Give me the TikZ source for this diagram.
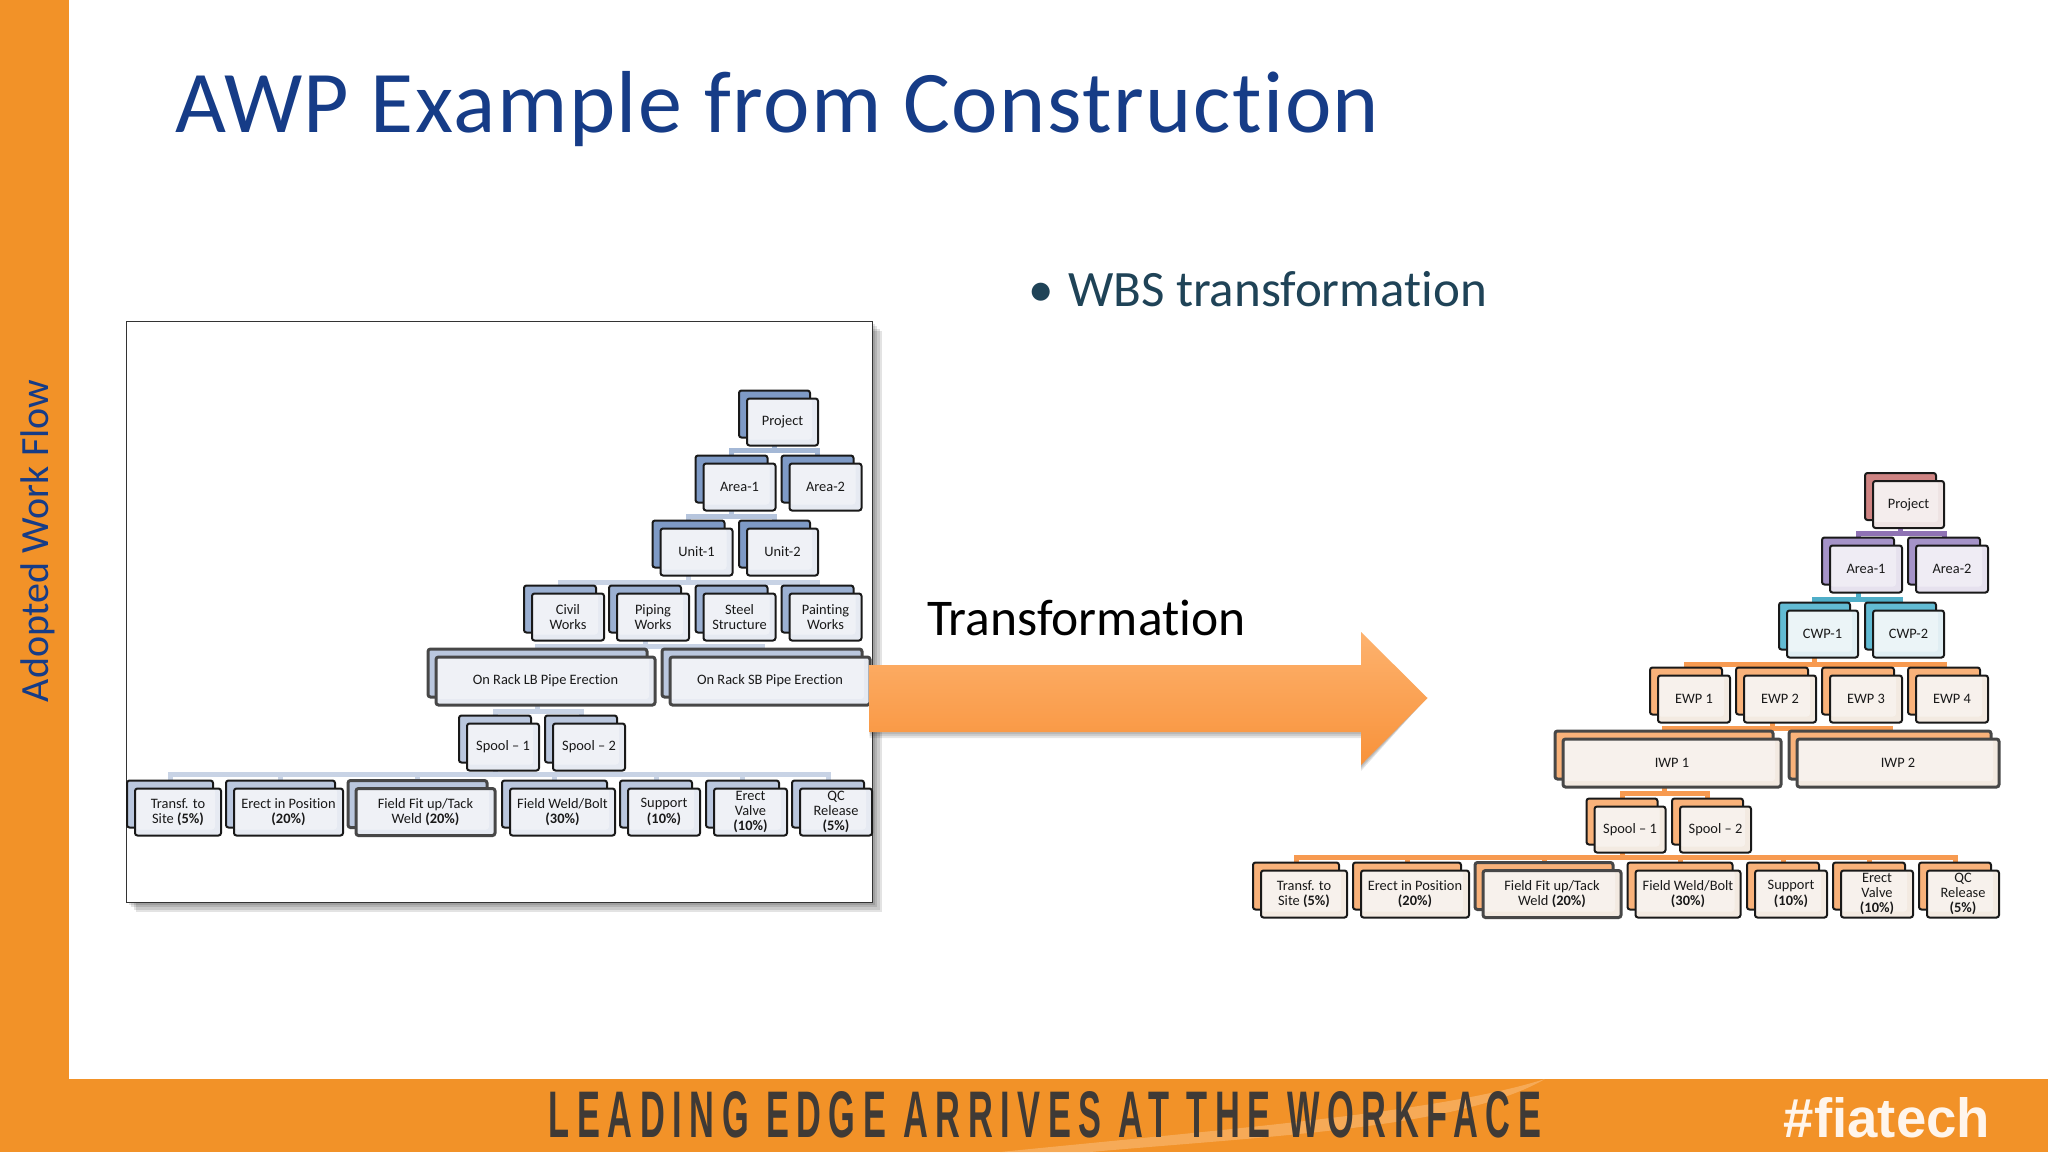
\documentclass[tikz,border=0pt]{standalone}
\usepackage{fontspec}
\usepackage{graphicx}
\setmainfont[Ligatures=NoCommon]{Carlito}
\newfontfamily\footfont[LetterSpace=22]{Liberation Sans}
\newfontfamily\tagfont{Liberation Sans}
\usetikzlibrary{calc}
\pgfdeclarelayer{back}
\pgfdeclarelayer{wires}
\pgfsetlayers{back,wires,main}
\definecolor{titleblue}{HTML}{163C87}
\definecolor{bulletink}{HTML}{1F4357}
\definecolor{slideorange}{HTML}{F29228}
\definecolor{streak}{HTML}{F8B56C}
\definecolor{footink}{HTML}{3F3A36}
\definecolor{blueA}{HTML}{7E9AC6}
\definecolor{blueB}{HTML}{9BB0D2}
\definecolor{blueC}{HTML}{BAC7DE}
\definecolor{frontblue}{HTML}{E6EAF2}
\definecolor{wireA}{HTML}{A4B8D6}
\definecolor{wireB}{HTML}{B6C5DD}
\definecolor{wireC}{HTML}{C8D3E5}
\definecolor{rose}{HTML}{CF8483}
\definecolor{frontrose}{HTML}{EEE3E3}
\definecolor{violet}{HTML}{A593C8}
\definecolor{frontviolet}{HTML}{E6E1EE}
\definecolor{wireviolet}{HTML}{8F72B4}
\definecolor{teal}{HTML}{62BBD3}
\definecolor{frontteal}{HTML}{E0EEF3}
\definecolor{wireteal}{HTML}{4FAEC8}
\definecolor{peach}{HTML}{F9B27A}
\definecolor{frontpeach}{HTML}{F3EAE1}
\definecolor{wirepeach}{HTML}{F79A50}
\definecolor{arrowtop}{HTML}{FDB26E}
\definecolor{arrowbottom}{HTML}{F8923A}
\tikzset{
  cardbase/.style={rounded corners=2.5pt, line width=2pt, draw=black!90, inner sep=0pt, outer sep=0pt},
  backcard/.style={cardbase},
  frontcard/.style={cardbase, align=center, text=black!90,
    font=\fontsize{14.4}{15.4}\selectfont,
    path picture={
      \fill[white, opacity=.38, rounded corners=3pt]
        (path picture bounding box.north west)
        rectangle ([xshift=-6pt,yshift=6pt]path picture bounding box.south east);
    }},
  heavy/.style={line width=3pt, draw=black!72},
  wire/.style={line width=5pt, line join=miter},
  caption/.style={inner sep=0pt, outer sep=0pt},
  softshadow/.style={fill=black, opacity=.11, draw=none},
  arrowshadow/.style={fill=black, opacity=.10, draw=none},
}
% \card[extra]{name}{cx}{cy}{w}{h}{back}{front}{text}
\newcommand{\card}[9][]{%
  \node[backcard,#1,minimum width=#5pt,minimum height=#6pt,fill=#7] (#2-b) at (#3-8,#4-8) {};
  \node[frontcard,#1,minimum width=#5pt,minimum height=#6pt,fill=#8] (#2) at (#3,#4) {#9};
}
% \wires{colour}{parent}{offset}{children}
\newcommand{\wires}[4]{%
  \begin{pgfonlayer}{wires}
  \foreach \kid in {#4} {\draw[wire,#1] (#2-b.south) -- ++(0,#3) -| (\kid-b.north);}
  \end{pgfonlayer}
}
\begin{document}
\begin{tikzpicture}[x=1pt,y=-1pt]
\useasboundingbox (0,0) rectangle (2048,1152);
\begin{pgfonlayer}{back}
  \fill[white] (0,0) rectangle (2048,1152);
  % side bar and footer
  \fill[slideorange] (0,0) rectangle (69,1152);
  \fill[slideorange] (0,1079) rectangle (2048,1152);
  \fill[streak, opacity=.7] (1545,1079) .. controls (1440,1112) and (1240,1128) .. (1000,1152)
     -- (1090,1152) .. controls (1270,1136) and (1460,1128) .. (1545,1079) -- cycle;
  % framed picture
  \foreach \d in {2.5,5,7.5,10} {\fill[softshadow] (126+\d,321+\d) rectangle (872+\d,902+\d);}
  \fill[white, draw=black!80, line width=1pt] (126,321) rectangle (872,902);
\end{pgfonlayer}

\node[caption, anchor=base west, text=titleblue, font={\addfontfeature{LetterSpace=1.8}\fontsize{88}{88}\selectfont}] (title) at (175,132) {AWP Example from Construction};
\node[caption, anchor=base west, text=bulletink, font=\fontsize{51}{51}\selectfont] (bullet) at (1028,306) {•};
\node[caption, anchor=base west, text=bulletink, font=\fontsize{51}{51}\selectfont] (wbs) at (1068,306) {WBS transformation};
\node[caption, rotate=90, text=titleblue, font=\fontsize{40}{40}\selectfont] (side) at (38,541) {Adopted Work Flow};

% left tree
\def\bA{blueA}\def\bB{blueB}\def\bC{blueC}\def\fb{frontblue}
\card{lproject}{782.5}{422}{71}{47}{\bA}{\fb}{Project}
\card{larea1}{739.5}{487}{72}{47}{\bA}{\fb}{Area-1}
\card{larea2}{825.5}{487}{72}{47}{\bA}{\fb}{Area-2}
\card{lunit1}{696.5}{552}{72}{47}{\bA}{\fb}{Unit-1}
\card{lunit2}{782.5}{552}{71}{47}{\bA}{\fb}{Unit-2}
\card{lcivil}{568}{617}{72}{47}{\bB}{\fb}{Civil\\Works}
\card{lpiping}{653}{617}{72}{47}{\bB}{\fb}{Piping\\Works}
\card{lsteel}{739.5}{617}{72}{47}{\bB}{\fb}{Steel\\Structure}
\card{lpaint}{825.5}{617}{72}{47}{\bB}{\fb}{Painting\\Works}
\card[heavy]{llb}{545.5}{681}{219}{48}{\bC}{\fb}{On Rack LB Pipe Erection}
\card[heavy]{lsb}{770}{681}{200}{48}{\bC}{\fb}{On Rack SB Pipe Erection}
\card{lspool1}{503}{747}{72}{47}{\bC}{\fb}{Spool -- 1}
\card{lspool2}{589}{747}{72}{47}{\bC}{\fb}{Spool -- 2}
\card{ltransf}{178}{812}{86}{47}{\bC}{\fb}{Transf. to\\Site \textbf{(5\%)}}
\card{lerect}{288.5}{812}{109}{47}{\bC}{\fb}{Erect in Position\\\textbf{(20\%)}}
\card[heavy]{lfit}{425.5}{812}{139}{47}{\bC}{\fb}{Field Fit up/Tack\\Weld \textbf{(20\%)}}
\card{lweld}{562.5}{812}{105}{47}{\bC}{\fb}{Field Weld/Bolt\\\textbf{(30\%)}}
\card{lsupport}{664}{812}{72}{47}{\bC}{\fb}{Support\\\textbf{(10\%)}}
\card{lvalve}{750.5}{812}{73}{47}{\bC}{\fb}{Erect\\Valve\\\textbf{(10\%)}}
\card{lqc}{836}{812}{72}{47}{\bC}{\fb}{QC\\Release\\\textbf{(5\%)}}

\wires{wireA}{lproject}{12.5}{larea1,larea2}
\wires{wireB}{larea1}{14}{lunit1,lunit2}
\wires{wireC}{lunit1}{15}{lcivil,lpiping,lsteel,lpaint}
\wires{wireC}{lpiping}{13.5}{llb,lsb}
\wires{wireC}{llb}{14}{lspool1,lspool2}
\wires{wireC}{lspool1}{12}{ltransf,lerect,lfit,lweld,lsupport,lvalve,lqc}

% arrow and its caption
\foreach \d in {2,4,6} {\fill[arrowshadow] (869.5,665+\d) -- (1361,665+\d) -- (1361,632+\d) -- (1427.5-.4*\d,698+.3*\d) -- (1361,765+\d) -- (1361,732+\d) -- (869.5,732+\d) -- cycle;}
\path[top color=arrowtop, bottom color=arrowbottom, draw=none]
  (869.5,665) -- (1361,665) -- (1361,632) -- (1427.5,698) -- (1361,765) -- (1361,732) -- (869.5,732) -- cycle;
\node[caption, anchor=base west, text=black, font=\fontsize{51.5}{51.5}\selectfont] (trans) at (927,635) {Transformation};

% right tree
\def\pe{peach}\def\fp{frontpeach}
\card{rproject}{1908.5}{504.5}{71}{47}{rose}{frontrose}{Project}
\card{rarea1}{1866}{569}{72}{47}{violet}{frontviolet}{Area-1}
\card{rarea2}{1952}{569}{72}{47}{violet}{frontviolet}{Area-2}
\card{rcwp1}{1822.5}{634}{71}{47}{teal}{frontteal}{CWP-1}
\card{rcwp2}{1908.5}{634}{71}{47}{teal}{frontteal}{CWP-2}
\card{rewp1}{1694}{699}{72}{47}{\pe}{\fp}{EWP 1}
\card{rewp2}{1780}{699}{72}{47}{\pe}{\fp}{EWP 2}
\card{rewp3}{1866}{699}{72}{47}{\pe}{\fp}{EWP 3}
\card{rewp4}{1952}{699}{72}{47}{\pe}{\fp}{EWP 4}
\card[heavy]{riwp1}{1672}{763}{218}{48}{\pe}{\fp}{IWP 1}
\card[heavy]{riwp2}{1898}{763}{202}{48}{\pe}{\fp}{IWP 2}
\card{rspool1}{1630}{829.5}{71}{46}{\pe}{\fp}{Spool -- 1}
\card{rspool2}{1715.5}{829.5}{71}{46}{\pe}{\fp}{Spool -- 2}
\card{rtransf}{1304}{894}{86}{47}{\pe}{\fp}{Transf. to\\Site \textbf{(5\%)}}
\card{rerect}{1415}{894}{108}{47}{\pe}{\fp}{Erect in Position\\\textbf{(20\%)}}
\card[heavy]{rfit}{1552}{894}{138}{47}{\pe}{\fp}{Field Fit up/Tack\\Weld \textbf{(20\%)}}
\card{rweld}{1688}{894}{105}{47}{\pe}{\fp}{Field Weld/Bolt\\\textbf{(30\%)}}
\card{rsupport}{1791}{894}{72}{47}{\pe}{\fp}{Support\\\textbf{(10\%)}}
\card{rvalve}{1877}{894}{72}{47}{\pe}{\fp}{Erect\\Valve\\\textbf{(10\%)}}
\card{rqc}{1963}{894}{72}{47}{\pe}{\fp}{QC\\Release\\\textbf{(5\%)}}

\wires{wireviolet}{rproject}{13}{rarea1,rarea2}
\wires{wireteal}{rarea1}{15}{rcwp1,rcwp2}
\wires{wirepeach}{rcwp1}{14.5}{rewp1,rewp2,rewp3,rewp4}
\wires{wirepeach}{rewp2}{14}{riwp1,riwp2}
\wires{wirepeach}{riwp1}{14.5}{rspool1,rspool2}
\wires{wirepeach}{rspool1}{13}{rtransf,rerect,rfit,rweld,rsupport,rvalve,rqc}

% footer texts
\node[caption, text=footink] (foot) at (1045,1115) {\resizebox{992pt}{46pt}{\footfont\bfseries LEADING EDGE ARRIVES AT THE WORKFACE}};
\node[caption, text=white!92!orange, anchor=south] (tag) at (1887,1138) {\resizebox{206pt}{40pt}{\tagfont\bfseries\#fiatech}};
\end{tikzpicture}
\end{document}
